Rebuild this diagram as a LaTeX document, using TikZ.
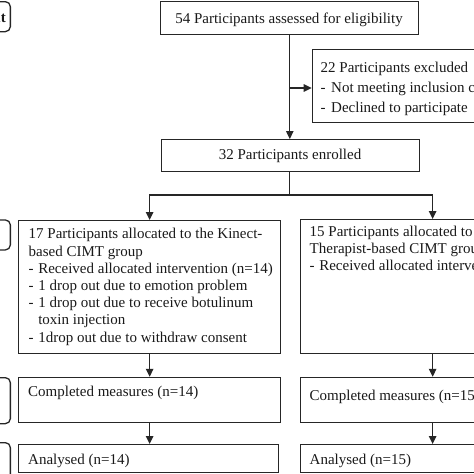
\documentclass[tikz,border=0pt]{standalone}
\usepackage{fontspec}
\setmainfont{Liberation Serif}
\usetikzlibrary{arrows.meta}
\newcommand\dsh{-\hspace{4.6pt}}
\begin{document}
\begin{tikzpicture}[x=1pt,y=-1pt,
  box/.style={draw=black!85, line width=1.3pt, rectangle, inner sep=0pt, anchor=north west},
  lbl/.style={draw=black!85, line width=1.3pt, rounded corners=5pt, rectangle, inner sep=0pt, anchor=north east, minimum width=100pt},
  txt/.style={font=\fontsize{15}{17.2}\selectfont, inner sep=0pt, align=left, text=black!90},
  arr/.style={draw=black!85, line width=1.2pt, -{Triangle[length=8pt,width=7.5pt]}},
  ln/.style={draw=black!85, line width=1.2pt}]
\path[use as bounding box] (0,0) rectangle (474,474);
\clip (0,0) rectangle (474,474);

% stage labels (left, mostly cut off)
\node[lbl, minimum height=30pt] (lenr) at (11,1) {};
\node[txt, anchor=base east, font=\fontsize{15}{17.2}\selectfont\bfseries] (tenr) at (6,22.5) {Enrollment};
\node[lbl, minimum height=30pt] (lall) at (11,219.3) {};
\node[lbl, minimum height=46pt] (lfol) at (11,377) {};
\node[lbl, minimum height=50pt] (lana) at (11,442) {};

% boxes
\node[box, minimum width=258pt, minimum height=33pt] (assess) at (159.5,1) {};
\node[txt, anchor=base] (tassess) at (289,23) {54 Participants assessed for eligibility};

\node[box, minimum width=200pt, minimum height=72.7pt] (excl) at (311.7,49) {};
\node[txt, anchor=north west, font=\fontsize{15}{20}\selectfont] (texcl) at (320.5,61.5)
  {22 Participants excluded\\-\hspace{5.5pt}Not meeting inclusion criteria\\-\hspace{5.5pt}Declined to participate};

\node[box, minimum width=258pt, minimum height=32pt] (enrol) at (161,139) {};
\node[txt, anchor=base] (tenrol) at (290,159.3) {32 Participants enrolled};

\node[box, minimum width=262pt, minimum height=132.7pt] (allocL) at (18,220) {};
\node[txt, anchor=north west] (tallocL) at (28.5,228.3)
  {17 Participants allocated to the Kinect-\\based CIMT group\\\dsh Received allocated intervention (n=14)\\\dsh 1 drop out due to emotion problem\\\dsh 1 drop out due to receive botulinum\\\hspace{9.6pt}toxin injection\\\dsh 1drop out due to withdraw consent};

\node[box, minimum width=264pt, minimum height=133.7pt] (allocR) at (300,219) {};
\node[txt, anchor=north west] (tallocR) at (309.5,225.8)
  {15 Participants allocated to the\\Therapist-based CIMT group\\\dsh Received allocated intervention (n=15)};

\node[box, minimum width=262pt, minimum height=45.3pt] (complL) at (18,376.8) {};
\node[txt, anchor=base west] (tcomplL) at (28,396) {Completed measures (n=14)};
\node[box, minimum width=264pt, minimum height=45.3pt] (complR) at (300,376.8) {};
\node[txt, anchor=base west] (tcomplR) at (309.5,400) {Completed measures (n=15)};

\node[box, minimum width=260pt, minimum height=28pt] (analL) at (18,444) {};
\node[txt, anchor=base west] (tanalL) at (28,464) {Analysed (n=14)};
\node[box, minimum width=264pt, minimum height=28pt] (analR) at (300,444) {};
\node[txt, anchor=base west] (tanalR) at (309.5,464) {Analysed (n=15)};

% connectors
\coordinate (vtop) at (289.8,0 |- assess.south);
\draw[arr] (vtop) -- (vtop |- enrol.north);
\coordinate (br) at (289.8,88);
\draw[arr] (br) -- (excl.west |- br);
\coordinate (split) at (289.8,195);
\draw[ln] (enrol.south -| split) -- (split);
\draw[arr] (split) -| (allocL.north);
\draw[arr] (split) -| (allocR.north);
\draw[arr] (allocL.south) -- (complL.north);
\draw[arr] (allocR.south) -- (complR.north);
\draw[arr] (complL.south) -- (complL.south |- analL.north);
\draw[arr] (complR.south) -- (analR.north);
\end{tikzpicture}
\end{document}
